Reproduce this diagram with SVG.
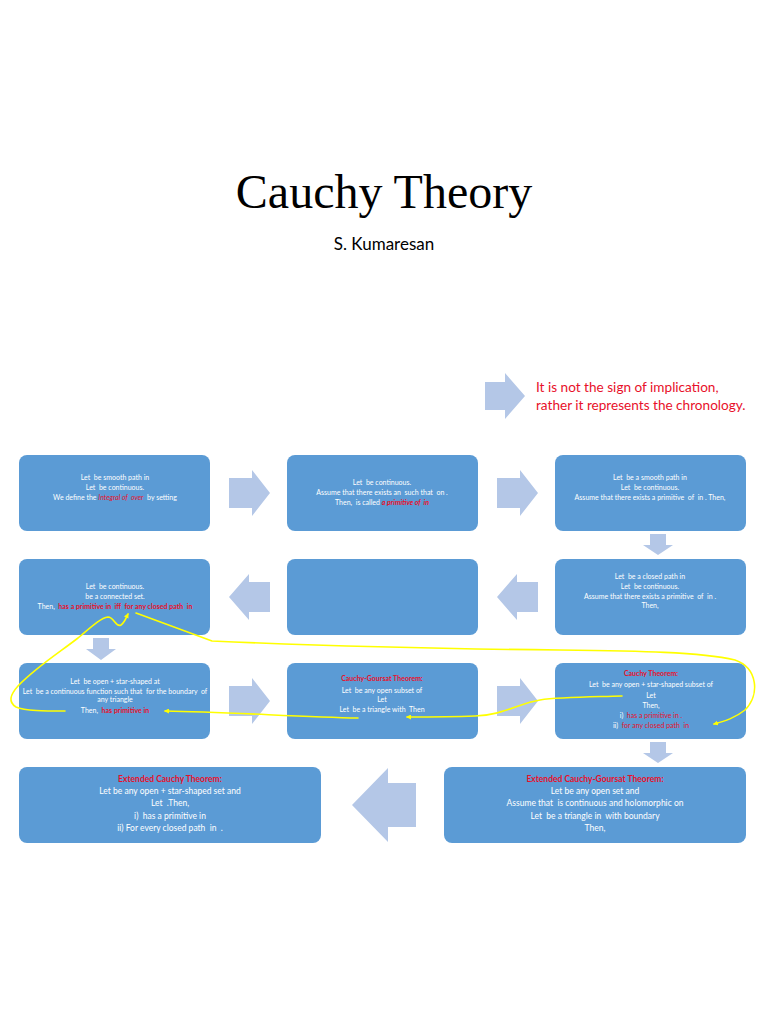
<svg xmlns="http://www.w3.org/2000/svg" width="768" height="1024" viewBox="0 0 768 1024">
<style>
text{white-space:pre;}
.box{fill:#5b9bd5;}
.arr{fill:#b4c7e7;}
.t{font-family:Lato,"Open Sans",sans-serif;font-size:7px;fill:#ffffff;text-anchor:middle;}
.t2{font-family:Lato,"Open Sans",sans-serif;font-size:8.5px;fill:#ffffff;text-anchor:middle;}
.r{fill:#e8102a;}
.b{font-weight:bold;}
.i{font-style:italic;}
.y{fill:none;stroke:#ffff00;stroke-width:1.6;stroke-linecap:round;stroke-linejoin:round;}
</style>
<defs>
<marker id="ya" viewBox="0 0 10 10" refX="8" refY="5" markerWidth="5" markerHeight="5" orient="auto-start-reverse" markerUnits="userSpaceOnUse">
<path d="M0,0 L10,5 L0,10 z" fill="#ffff00"/>
</marker>
</defs>
<rect width="768" height="1024" fill="#ffffff"/>
<text x="384" y="208" font-family="'Liberation Serif',serif" font-size="48" text-anchor="middle" fill="#000">Cauchy Theory</text>
<text x="384" y="250" font-family="Lato,'Open Sans',sans-serif" font-size="17" text-anchor="middle" fill="#000">S. Kumaresan</text>
<g id="legend">
<path class="arr" d="M485,382 H505 V373 L525,396 L505,419 V410 H485 Z"/>
<text x="536" y="392" font-family="Lato,'Open Sans',sans-serif" font-size="13.6" fill="#e8102a">It is not the sign of implication,</text>
<text x="536" y="410" font-family="Lato,'Open Sans',sans-serif" font-size="13.6" fill="#e8102a">rather it represents the chronology.</text>
</g>
<g id="n1">
<rect class="box" x="19" y="455" width="191" height="76" rx="8"/>
<text class="t" x="115" y="480">Let  be smooth path in</text>
<text class="t" x="115" y="490">Let  be continuous.</text>
<text class="t" x="115" y="500">We define the <tspan class="r i">Integral of  over</tspan>  by setting</text>
</g>
<g id="n2">
<rect class="box" x="287" y="455" width="191" height="76" rx="8"/>
<text class="t" x="382" y="485">Let  be continuous.</text>
<text class="t" x="382" y="495">Assume that there exists an  such that  on .</text>
<text class="t" x="382" y="505">Then,  is called <tspan class="r i b">a primitive of  in</tspan></text>
</g>
<g id="n3">
<rect class="box" x="555" y="455" width="191" height="76" rx="8"/>
<text class="t" x="650" y="480">Let  be a smooth path in</text>
<text class="t" x="650" y="490">Let  be continuous.</text>
<text class="t" x="650" y="500">Assume that there exists a primitive  of  in . Then,</text>
</g>
<g id="n4">
<rect class="box" x="19" y="559" width="191" height="76" rx="8"/>
<text class="t" x="115" y="589">Let  be continuous.</text>
<text class="t" x="115" y="599">be a connected set.</text>
<text class="t" x="115" y="609">Then,  <tspan class="r b">has a primitive in  iff  for any closed path  in</tspan></text>
</g>
<g id="n5">
<rect class="box" x="287" y="559" width="191" height="76" rx="8"/>
</g>
<g id="n6">
<rect class="box" x="555" y="559" width="191" height="76" rx="8"/>
<text class="t" x="650" y="579">Let  be a closed path in</text>
<text class="t" x="650" y="589">Let  be continuous.</text>
<text class="t" x="650" y="599">Assume that there exists a primitive  of  in .</text>
<text class="t" x="650" y="608">Then,</text>
</g>
<g id="n7">
<rect class="box" x="19" y="663" width="191" height="76" rx="8"/>
<text class="t" x="115" y="684">Let  be open + star-shaped at</text>
<text class="t" x="115" y="694">Let  be a continuous function such that  for the boundary  of</text>
<text class="t" x="115" y="702">any triangle</text>
<text class="t" x="115" y="713">Then,  <tspan class="r b">has primitive in</tspan></text>
</g>
<g id="n8">
<rect class="box" x="287" y="663" width="191" height="76" rx="8"/>
<text class="t r b" x="382" y="681">Cauchy-Goursat Theorem:</text>
<text class="t" x="382" y="693">Let  be any open subset of</text>
<text class="t" x="382" y="702">Let</text>
<text class="t" x="382" y="712">Let  be a triangle with  Then</text>
</g>
<g id="n9">
<rect class="box" x="555" y="663" width="191" height="76" rx="8"/>
<text class="t r b" x="651" y="676">Cauchy Theorem:</text>
<text class="t" x="651" y="687">Let  be any open + star-shaped subset of</text>
<text class="t" x="651" y="698">Let</text>
<text class="t" x="651" y="708">Then,</text>
<text class="t" x="651" y="718">i)  <tspan class="r">has a primitive in .</tspan></text>
<text class="t" x="651" y="728">ii)  <tspan class="r">for any closed path  in</tspan></text>
</g>
<g id="n10">
<rect class="box" x="19" y="767" width="302" height="76" rx="8"/>
<text class="t2 r b" x="170" y="782">Extended Cauchy Theorem:</text>
<text class="t2" x="170" y="794">Let be any open + star-shaped set and</text>
<text class="t2" x="170" y="806">Let  .Then,</text>
<text class="t2" x="170" y="819">i)  has a primitive in</text>
<text class="t2" x="170" y="831">ii) For every closed path  in  .</text>
</g>
<g id="n11">
<rect class="box" x="444" y="767" width="302" height="76" rx="8"/>
<text class="t2 r b" x="595" y="782">Extended Cauchy-Goursat Theorem:</text>
<text class="t2" x="595" y="794">Let be any open set and</text>
<text class="t2" x="595" y="806">Assume that  is continuous and holomorphic on</text>
<text class="t2" x="595" y="819">Let  be a triangle in  with boundary</text>
<text class="t2" x="595" y="831">Then,</text>
</g>
<g id="connectors">
<path class="arr" d="M229,478 H252 V470 L270,493 L252,516 V508 H229 Z"/>
<path class="arr" d="M497,478 H520 V470 L538,493 L520,516 V508 H497 Z"/>
<path class="arr" d="M650,534 H666 V545 H673 L658,555 L643,545 H650 Z"/>
<path class="arr" d="M270,582 H249 V574 L229,597 L249,620 V612 H270 Z"/>
<path class="arr" d="M538,582 H517 V574 L497,597 L517,620 V612 H538 Z"/>
<path class="arr" d="M93,638 H109 V649 H116 L101,660 L86,649 H93 Z"/>
<path class="arr" d="M229,686 H252 V678 L270,701 L252,724 V716 H229 Z"/>
<path class="arr" d="M497,686 H520 V678 L538,701 L520,724 V716 H497 Z"/>
<path class="arr" d="M650,742 H666 V753 H673 L658,763 L643,753 H650 Z"/>
<path class="arr" d="M416,783 H388 V768 L352,805 L388,842 V827 H416 Z"/>
<path class="y" marker-end="url(#ya)" d="M136,613 L212,641 C300,645 450,649 560,650 C640,651 700,652 735,660 C758,668 760,695 745,710 C735,718 725,721 714,724"/>
<path class="y" marker-end="url(#ya)" d="M65,711 C45,711 25,711 16,707 C8,702 10,695 18,686 C35,668 60,652 78,638 C90,628 100,618 108,617 C114,617 116,628 121,625 C125,622 126,618 128,614"/>
<path class="y" marker-end="url(#ya)" d="M622,696 C590,697 560,697 540,700 C520,703 500,716 475,716 C450,717 430,717 407,717"/>
<path class="y" marker-end="url(#ya)" d="M358,718 C300,717 230,712 165,711"/>
</g>
</svg>
